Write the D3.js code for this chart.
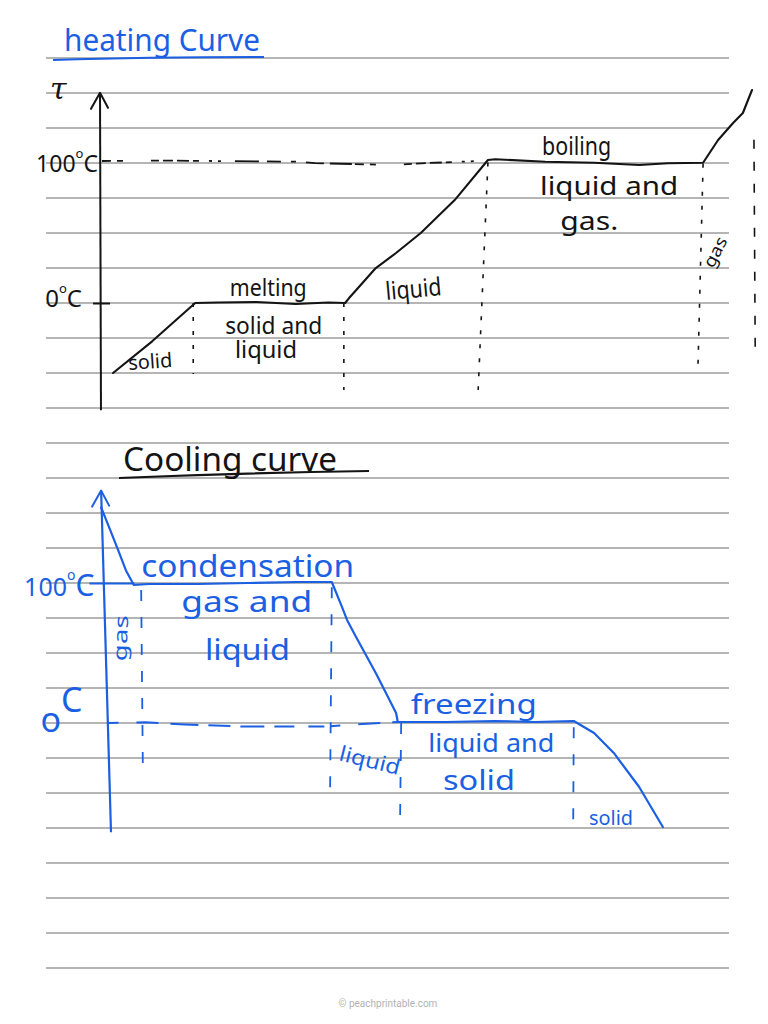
<!DOCTYPE html>
<html>
<head>
<meta charset="utf-8">
<script src="https://cdn.jsdelivr.net/npm/d3@7"></script>
<style>
  body { margin: 0; background: #fff; }
  text { font-family: "Noto Sans", "DejaVu Sans", sans-serif; }
</style>
</head>
<body>
<div id="container"></div>
<script>
// ---- data ----
// time is in arbitrary units (0..100), temperature in degrees C
const heatTime = [2, 8, 14.6, 18, 24, 30, 35, 37.6, 38.2, 39.3, 42.3, 45.4, 49.2, 54.4, 59.5,
                  60.6, 68.3, 75.8, 82.7, 87.1, 92.5, 94.8, 97.1, 98.6, 100];
const heatTemp = [-49.3, -27, 0, 0.4, 0.7, -0.7, 0.4, 0, 3.5, 9.2, 24.6, 35.2, 49.3, 72.5, 100.7,
                  101.2, 99.5, 98.8, 97.2, 98.4, 98.8, 114.8, 126.8, 133.8, 150];

const coolTime = [0.2, 1.8, 3.2, 4.6, 6, 8.7, 17.4, 26.2, 34.9, 41.1, 42.9, 43.8, 45.4, 48.9,
                  52.5, 52.8, 61.3, 70, 77.1, 84, 87.6, 91.1, 95.6, 99.8];
const coolTemp = [154, 138, 123.6, 109, 98.6, 99.3, 99.3, 100, 100.7, 100.7, 82.9, 73.6, 61.4, 35.7,
                  7.1, 0.7, 0.7, 1.4, 0.7, 1.4, -7.1, -21.4, -45.7, -74.3];

const tickTemps = [0, 100];
const tickLabels = ['0', '100'];

// phase boundaries: [t top, temp top, t bottom, temp bottom]
const heatPhaseLines = [[14.3, 0, 14.3, -50], [37.4, 0, 37.4, -61.3], [59.5, 99, 58, -61.3],
                        [92.5, 98, 91.7, -47.2], [100.3, 115, 100.5, -38]];
const coolPhaseLines = [[7.3, 95, 7.6, -33], [41.1, 97, 40.8, -48], [53.4, 0, 53.2, -71],
                        [84, -3, 83.9, -71]];

// hand-drawn reference lines at the fixed points
const heatBoilRef = [[0.3, 100], [10, 100.3], [30, 99.5], [33, 98.5], [45, 97.2], [50, 98.5], [58, 100]];
const coolFreezeRef = [[1.5, 0], [8, 0.5], [15, -1], [25, -2.5], [40, -2.5], [45, -1], [52.8, 0.7]];

const heatNotes = [
  { text: 'boiling', t: 67.8, temp: 104.2 },
  { text: 'liquid and', t: 67.5, temp: 76 },
  { text: 'gas.', t: 70.6, temp: 51.4 },
  { text: 'gas', t: 94, temp: 24 },
  { text: 'melting', t: 19.9, temp: 4.9 },
  { text: 'solid and', t: 19.2, temp: -21.8 },
  { text: 'liquid', t: 20.7, temp: -38.7 },
  { text: 'solid', t: 4.4, temp: -47.2 },
  { text: 'liquid', t: 43.9, temp: 2.1 }
];
const coolNotes = [
  { text: 'condensation', t: 7.3, temp: 104.3 },
  { text: 'gas and', t: 14.4, temp: 79.3 },
  { text: 'liquid', t: 18.6, temp: 45 },
  { text: 'gas', t: 4.7, temp: 44 },
  { text: 'freezing', t: 55.1, temp: 6.4 },
  { text: 'liquid and', t: 58.2, temp: -20.7 },
  { text: 'solid', t: 60.8, temp: -47.9 },
  { text: 'liquid', t: 42.2, temp: -26.4 },
  { text: 'solid', t: 86.7, temp: -72.9 }
];

// ---- drawing ----
const INK = '#141414';
const BLUE = '#1b5fe2';

const svg = d3.select('#container')
  .append('svg')
  .attr('width', 768)
  .attr('height', 1024);

svg.append('rect').attr('width', 768).attr('height', 1024).attr('fill', '#fff');

// notebook rules
const paperRows = d3.range(27);
const rowY = d3.scaleLinear().domain([0, 26]).range([58, 968]);
svg.append('g').attr('class', 'rules')
  .selectAll('line')
  .data(paperRows)
  .enter()
  .append('line')
    .attr('x1', 46).attr('x2', 729)
    .attr('y1', (d) => rowY(d)).attr('y2', (d) => rowY(d))
    .attr('stroke', '#9c9c9c')
    .attr('stroke-width', 1.5);

svg.append('text')
  .attr('x', 388).attr('y', 1007)
  .attr('text-anchor', 'middle')
  .style('font-family', 'Roboto, sans-serif')
  .style('font-size', '10px')
  .attr('fill', '#b3b3b3')
  .text('© peachprintable.com');

function drawNotes(g, notes, fit, x, y, color) {
  g.selectAll('text.note')
    .data(notes)
    .enter()
    .append('text')
      .attr('class', 'note')
      .attr('transform', (d, i) => 'translate(' + x(d.t) + ',' + y(d.temp) + ') rotate(' + fit[i][2] + ')')
      .attr('fill', color)
      .style('font-size', (d, i) => fit[i][0] + 'px')
      .attr('textLength', (d, i) => fit[i][1])
      .attr('lengthAdjust', 'spacingAndGlyphs')
      .text((d) => d.text);
}

function drawArrow(g, x, y, t, temp, color) {
  const ax = x(t), ay = y(temp);
  g.append('path')
    .attr('d', 'M' + (ax - 9) + ',' + (ay + 16) + 'L' + ax + ',' + ay + 'L' + (ax + 8) + ',' + (ay + 15))
    .attr('fill', 'none').attr('stroke', color).attr('stroke-width', 2)
    .attr('stroke-linecap', 'round').attr('stroke-linejoin', 'round');
}

// ===== heating curve =====
const heat = svg.append('g').attr('class', 'heating');
const xH = d3.scaleLinear().domain([0, 100]).range([100, 752]);
const yH = d3.scaleLinear().domain([0, 100]).range([303, 161]);

heat.append('text')
  .attr('x', 64).attr('y', 51)
  .attr('fill', BLUE)
  .style('font-size', '31px')
  .attr('textLength', 196)
  .attr('lengthAdjust', 'spacingAndGlyphs')
  .text('heating Curve');
heat.append('path')
  .attr('d', 'M53,60 Q150,57 264,57')
  .attr('fill', 'none').attr('stroke', BLUE).attr('stroke-width', 2.2);

heat.append('text')
  .attr('x', 50).attr('y', 99)
  .attr('fill', INK)
  .style('font-size', '30px')
  .style('font-family', '"DejaVu Serif", serif')
  .style('font-style', 'italic')
  .text('τ');

// axis line + arrow
heat.append('line')
  .attr('x1', xH(0)).attr('y1', yH(148))
  .attr('x2', xH(0.15)).attr('y2', yH(-75.5))
  .attr('stroke', INK).attr('stroke-width', 2);
drawArrow(heat, xH, yH, 0, 148, INK);

const heatAxis = d3.axisLeft(yH)
  .tickValues(tickTemps)
  .tickSizeInner(7).tickSizeOuter(0)
  .tickFormat((d, i) => tickLabels[i]);
const hAx = heat.append('g')
  .attr('transform', 'translate(' + xH(0) + ',0)')
  .call(heatAxis)
  .call(g => g.select('.domain').remove());
hAx.selectAll('.tick line')
  .attr('x1', 10).attr('x2', -7)
  .attr('stroke', INK).attr('stroke-width', 2)
  .style('opacity', (d) => d === 0 ? 1 : 0);
hAx.selectAll('.tick text').remove();
hAx.selectAll('.tick').each(function (d, i) {
  const t = d3.select(this).append('text')
    .attr('fill', INK)
    .attr('text-anchor', 'end')
    .style('font-family', '"Noto Sans", sans-serif')
    .style('font-size', d === 0 ? '24px' : '23px')
    .attr('x', d === 0 ? -18 : -2)
    .attr('y', d === 0 ? 3 : 10);
  t.append('tspan').text(tickLabels[i]);
  t.append('tspan').attr('dy', -14).style('font-size', '13px').text('o');
  t.append('tspan').attr('dy', 14).text('C');
});

// dashed 100 line
heat.append('path')
  .datum(heatBoilRef)
  .attr('d', d3.line().x((d) => xH(d[0])).y((d) => yH(d[1])))
  .attr('fill', 'none').attr('stroke', INK).attr('stroke-width', 1.8)
  .attr('stroke-dasharray', '9,6,6,28,8,4,10,4,12,4,6,10,3,6,3,14,24,8,14,10,5,10,18,6,22,3');

heat.selectAll('line.phase')
  .data(heatPhaseLines)
  .enter()
  .append('line')
    .attr('class', 'phase')
    .attr('x1', (d) => xH(d[0])).attr('y1', (d) => yH(d[1]))
    .attr('x2', (d) => xH(d[2])).attr('y2', (d) => yH(d[3]))
    .attr('stroke', INK).attr('stroke-width', 1.6)
    .attr('stroke-dasharray', (d, i) => i === 4 ? '9,13' : '4,10');

heat.append('path')
  .datum(d3.zip(heatTime, heatTemp))
  .attr('d', d3.line().x((d) => xH(d[0])).y((d) => yH(d[1])))
  .attr('fill', 'none').attr('stroke', INK).attr('stroke-width', 2.1)
  .attr('stroke-linejoin', 'round').attr('stroke-linecap', 'round');

// [font size, width, rotation]
const heatFit = [[25, 69, 0], [25, 138, 0], [25, 58, 0], [17, 32, -62], [23, 77, 0],
                 [23, 97, 0], [23, 62, 0], [20, 44, -4], [25, 56, -5]];
drawNotes(heat, heatNotes, heatFit, xH, yH, INK);

// ===== cooling curve =====
const cool = svg.append('g').attr('class', 'cooling');
const xC = d3.scaleLinear().domain([0, 100]).range([100, 664]);
const yC = d3.scaleLinear().domain([0, 100]).range([723, 583]);

cool.append('text')
  .attr('x', 123).attr('y', 471)
  .attr('fill', INK)
  .style('font-size', '33px')
  .attr('textLength', 214)
  .attr('lengthAdjust', 'spacingAndGlyphs')
  .text('Cooling curve');
cool.append('path')
  .attr('d', 'M119,478 Q240,473 369,471')
  .attr('fill', 'none').attr('stroke', INK).attr('stroke-width', 2.2);

cool.append('line')
  .attr('x1', xC(0.2)).attr('y1', yC(166))
  .attr('x2', xC(1.95)).attr('y2', yC(-78))
  .attr('stroke', BLUE).attr('stroke-width', 2.2);
drawArrow(cool, xC, yC, 0.2, 166, BLUE);

const coolAxis = d3.axisLeft(yC)
  .tickValues(tickTemps)
  .tickSizeInner(12).tickSizeOuter(0)
  .tickFormat((d, i) => tickLabels[i]);
const cAx = cool.append('g')
  .attr('transform', 'translate(' + xC(1.5) + ',0)')
  .call(coolAxis)
  .call(g => g.select('.domain').remove());
cAx.selectAll('.tick line')
  .attr('x1', (d) => d === 100 ? 26 : 0).attr('x2', (d) => d === 100 ? -19 : 0)
  .attr('stroke', BLUE).attr('stroke-width', 2);
cAx.selectAll('.tick text').remove();
cAx.selectAll('.tick').each(function (d, i) {
  const t = d3.select(this).append('text')
    .attr('fill', BLUE)
    .attr('text-anchor', 'end')
    .style('font-family', '"Noto Sans", sans-serif')
    .style('font-size', '25px');
  if (d === 100) {
    t.attr('x', -14).attr('y', 12);
    t.append('tspan').text(tickLabels[i]);
    t.append('tspan').attr('dy', -16).style('font-size', '14px').text('o');
    t.append('tspan').attr('dy', 16).style('font-size', '30px').text('C');
  } else {
    t.attr('x', -26).attr('y', 8);
    t.append('tspan').style('font-size', '34px').text('o');
    t.append('tspan').attr('dy', -20).style('font-size', '34px').text('C');
  }
});

cool.append('path')
  .datum(coolFreezeRef)
  .attr('d', d3.line().x((d) => xC(d[0])).y((d) => yC(d[1])))
  .attr('fill', 'none').attr('stroke', BLUE).attr('stroke-width', 2)
  .attr('stroke-dasharray', '10,18,22,12,28,10,22,10,24,10,20,14,16,6');

cool.selectAll('line.phase')
  .data(coolPhaseLines)
  .enter()
  .append('line')
    .attr('class', 'phase')
    .attr('x1', (d) => xC(d[0])).attr('y1', (d) => yC(d[1]))
    .attr('x2', (d) => xC(d[2])).attr('y2', (d) => yC(d[3]))
    .attr('stroke', BLUE).attr('stroke-width', 1.8)
    .attr('stroke-dasharray', '11,16');

cool.append('path')
  .datum(d3.zip(coolTime, coolTemp))
  .attr('d', d3.line().x((d) => xC(d[0])).y((d) => yC(d[1])))
  .attr('fill', 'none').attr('stroke', BLUE).attr('stroke-width', 2.2)
  .attr('stroke-linejoin', 'round').attr('stroke-linecap', 'round');

const coolFit = [[30, 213, 0], [29, 131, 0], [29, 85, 0], [19, 46, -88], [27, 126, 0],
                 [25, 126, 0], [27, 72, 0], [21, 62, 14], [20, 44, 0]];
drawNotes(cool, coolNotes, coolFit, xC, yC, BLUE);
</script>
</body>
</html>
